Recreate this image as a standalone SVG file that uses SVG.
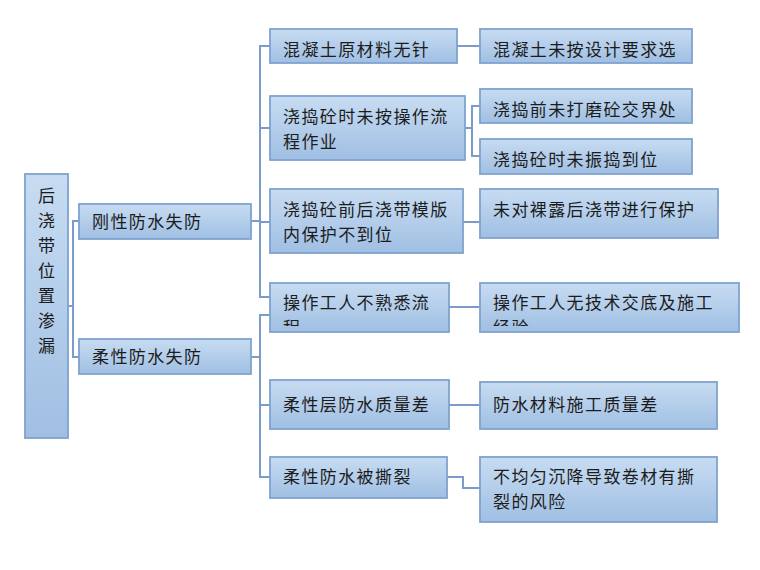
<svg xmlns="http://www.w3.org/2000/svg" width="760" height="570" viewBox="0 0 760 570">
<defs>
<linearGradient id="g" x1="0" y1="0" x2="0" y2="1">
<stop offset="0" stop-color="#c7dcf2"/>
<stop offset="1" stop-color="#a0bfe3"/>
</linearGradient>
<clipPath id="c1"><rect x="270" y="283" width="180" height="43"/></clipPath>
<clipPath id="c2"><rect x="480" y="283" width="260" height="43"/></clipPath>
</defs>
<style>
.box{fill:url(#g);stroke:#7fa2cf;stroke-width:1.8}
.t{font-family:"Noto Sans CJK SC","Noto Sans CJK TC",sans-serif;font-size:17px;fill:#1c1c1c;letter-spacing:1.4px}
.ln{fill:none;stroke:#7b9ccb;stroke-width:2}
</style>
<rect width="760" height="570" fill="#ffffff"/>
<g id="connectors">
<polyline class="ln" points="68,306 73,306"/>
<polyline class="ln" points="79,221 73,221 73,357 79,357"/>
<polyline class="ln" points="251,221 260,221"/>
<polyline class="ln" points="270,46 260,46 260,297 270,297"/>
<polyline class="ln" points="260,128 270,128"/>
<polyline class="ln" points="260,222 270,222"/>
<polyline class="ln" points="251,357 260,357"/>
<polyline class="ln" points="270,315 260,315 260,477 270,477"/>
<polyline class="ln" points="260,405 270,405"/>
<polyline class="ln" points="457,46 480,46"/>
<polyline class="ln" points="465,128 472,128"/>
<polyline class="ln" points="480,106 472,106 472,156 480,156"/>
<polyline class="ln" points="463,222 480,222"/>
<polyline class="ln" points="449,307 480,307"/>
<polyline class="ln" points="449,405 480,405"/>
<polyline class="ln" points="447,477 463,477 463,488 480,488"/>
</g>
<g id="root">
<rect class="box" x="25" y="174" width="43" height="264"/>
<text class="t" x="46.5" text-anchor="middle" style="letter-spacing:0"><tspan x="46.5" y="202">后</tspan><tspan x="46.5" y="227">浇</tspan><tspan x="46.5" y="252">带</tspan><tspan x="46.5" y="277">位</tspan><tspan x="46.5" y="302">置</tspan><tspan x="46.5" y="327">渗</tspan><tspan x="46.5" y="352">漏</tspan></text>
</g>
<g id="n-rigid">
<rect class="box" x="79" y="204" width="172" height="35"/>
<text class="t" x="92" y="228">刚性防水失防</text>
</g>
<g id="n-flex">
<rect class="box" x="79" y="339" width="172" height="35"/>
<text class="t" x="92" y="363">柔性防水失防</text>
</g>
<g id="n-a1">
<rect class="box" x="270" y="29" width="187" height="34"/>
<text class="t" x="283" y="56">混凝土原材料无针</text>
</g>
<g id="n-a2">
<rect class="box" x="270" y="96" width="195" height="64"/>
<text class="t" x="283" y="123">浇捣砼时未按操作流</text>
<text class="t" x="283" y="148">程作业</text>
</g>
<g id="n-a3">
<rect class="box" x="270" y="189" width="193" height="64"/>
<text class="t" x="283" y="216">浇捣砼前后浇带模版</text>
<text class="t" x="283" y="241">内保护不到位</text>
</g>
<g id="n-a4">
<rect class="box" x="270" y="283" width="179" height="49"/>
<g clip-path="url(#c1)">
<text class="t" x="283" y="309">操作工人不熟悉流</text>
<text class="t" x="283" y="334">程</text>
</g>
</g>
<g id="n-b1">
<rect class="box" x="270" y="380" width="179" height="49"/>
<text class="t" x="283" y="411">柔性层防水质量差</text>
</g>
<g id="n-b2">
<rect class="box" x="270" y="457" width="177" height="41"/>
<text class="t" x="283" y="483">柔性防水被撕裂</text>
</g>
<g id="n-c1">
<rect class="box" x="480" y="29" width="212" height="34"/>
<text class="t" x="493" y="56">混凝土未按设计要求选</text>
</g>
<g id="n-c2">
<rect class="box" x="480" y="89" width="212" height="34"/>
<text class="t" x="493" y="116">浇捣前未打磨砼交界处</text>
</g>
<g id="n-c3">
<rect class="box" x="480" y="139" width="212" height="35"/>
<text class="t" x="493" y="166">浇捣砼时未振捣到位</text>
</g>
<g id="n-c4">
<rect class="box" x="480" y="189" width="238" height="49"/>
<text class="t" x="493" y="216">未对裸露后浇带进行保护</text>
</g>
<g id="n-c5">
<rect class="box" x="480" y="283" width="259" height="49"/>
<g clip-path="url(#c2)">
<text class="t" x="493" y="309">操作工人无技术交底及施工</text>
<text class="t" x="493" y="334">经验</text>
</g>
</g>
<g id="n-c6">
<rect class="box" x="480" y="382" width="237" height="47"/>
<text class="t" x="493" y="411">防水材料施工质量差</text>
</g>
<g id="n-c7">
<rect class="box" x="480" y="457" width="237" height="65"/>
<text class="t" x="493" y="483">不均匀沉降导致卷材有撕</text>
<text class="t" x="493" y="508">裂的风险</text>
</g>
</svg>
